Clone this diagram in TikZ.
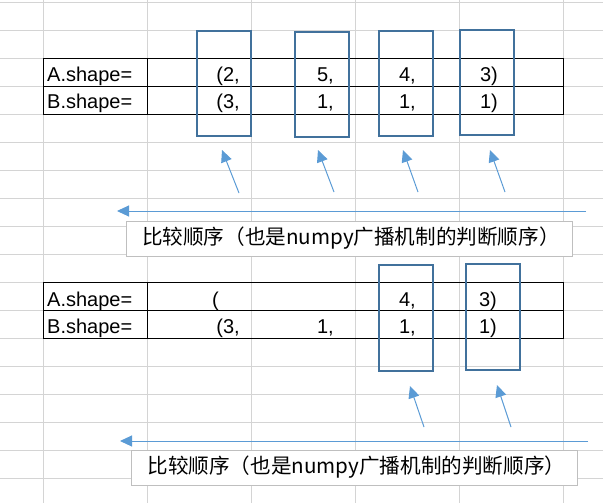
\documentclass[tikz,border=0pt]{standalone}
\usepackage{fontspec}
\setmainfont{Liberation Sans}
\newfontfamily\cjk{Noto Sans CJK SC}
\usetikzlibrary{arrows.meta}
\definecolor{gridgray}{HTML}{D4D4D4}
\definecolor{boxblue}{HTML}{41719C}
\definecolor{ptrblue}{HTML}{5B9BD5}
\definecolor{notegray}{HTML}{BFBFBF}

\begin{document}
\begin{tikzpicture}[x=1pt, y=-1pt,
    cell/.style={inner sep=0pt, font=\fontsize{20}{24}\selectfont},
    dimbox/.style={draw=boxblue, line width=2.3pt},
    ptr/.style={draw=ptrblue, line width=1pt, -{Triangle[length=12pt,width=11pt]}},
    note/.style={draw=notegray, line width=1pt, fill=white, inner xsep=16pt,
      text width=414pt, minimum height=35pt, align=left,
      font=\cjk\fontsize{20.6}{24}\selectfont}]
  \useasboundingbox (0,0) rectangle (603,503);
  \foreach \k in {0,...,17}
    \draw[gridgray, line width=1pt] (0,2.7+28*\k) -- (603,2.7+28*\k);
  \foreach \x in {43,147,251,355,459,563}
    \draw[gridgray, line width=1pt] (\x,0) -- (\x,503);

  \draw[line width=1pt] (43,58.3) rectangle (563,114.3);
  \draw[line width=1pt] (43,86.3) -- (563,86.3);
  \draw[line width=1pt] (147,58.3) -- (147,114.3);
  \node[cell, anchor=base west] (atop) at (47,82) {A.shape=};
  \node[cell, anchor=base west] (btop) at (47,109) {B.shape=};
  \node[cell, anchor=base east] (atop1) at (240,82) {(2,};
  \node[cell, anchor=base east] (atop2) at (334,82) {5,};
  \node[cell, anchor=base east] (atop3) at (416,82) {4,};
  \node[cell, anchor=base east] (atop4) at (498,82) {3)};
  \node[cell, anchor=base east] (btop1) at (240,109) {(3,};
  \node[cell, anchor=base east] (btop2) at (334,109) {1,};
  \node[cell, anchor=base east] (btop3) at (416,109) {1,};
  \node[cell, anchor=base east] (btop4) at (498,109) {1)};

  \draw[dimbox] (197,31) rectangle (251,136);
  \draw[dimbox] (295,32) rectangle (349,137);
  \draw[dimbox] (379,31) rectangle (433,136);
  \draw[dimbox] (460,30) rectangle (514,135);

  \coordinate (tail1) at (239,193); \coordinate (tip1) at (222,150);
  \coordinate (tail2) at (334,192); \coordinate (tip2) at (318,150);
  \coordinate (tail3) at (418,192); \coordinate (tip3) at (403,150);
  \coordinate (tail4) at (505,192); \coordinate (tip4) at (490,150);
  \draw[ptr] (tail1) -- (tip1);
  \draw[ptr] (tail2) -- (tip2);
  \draw[ptr] (tail3) -- (tip3);
  \draw[ptr] (tail4) -- (tip4);
  \coordinate (ordstart) at (586,211); \coordinate (ordend) at (117,211);
  \draw[ptr] (ordstart) -- (ordend);
  \node[note] (ordtop) at (349,238.5) {比较顺序（也是numpy广播机制的判断顺序）};

  \draw[line width=1pt] (43,282.7) rectangle (563,338.7);
  \draw[line width=1pt] (43,310.7) -- (563,310.7);
  \draw[line width=1pt] (147,282.7) -- (147,338.7);
  \node[cell, anchor=base west] (abot) at (47,306.5) {A.shape=};
  \node[cell, anchor=base west] (bbot) at (47,333.5) {B.shape=};
  \node[cell, anchor=base west] (abot1) at (212,306.5) {(};
  \node[cell, anchor=base east] (abot3) at (416,306.5) {4,};
  \node[cell, anchor=base east] (abot4) at (497,306.5) {3)};
  \node[cell, anchor=base east] (bbot1) at (240,333.5) {(3,};
  \node[cell, anchor=base east] (bbot2) at (334,333.5) {1,};
  \node[cell, anchor=base east] (bbot3) at (416,333.5) {1,};
  \node[cell, anchor=base east] (bbot4) at (497,333.5) {1)};

  \draw[dimbox] (379,265) rectangle (433,371);
  \draw[dimbox] (466,264) rectangle (520,370);

  \coordinate (tail5) at (424,427); \coordinate (tip5) at (410,386);
  \coordinate (tail6) at (511,427); \coordinate (tip6) at (497,385);
  \draw[ptr] (tail5) -- (tip5);
  \draw[ptr] (tail6) -- (tip6);
  \coordinate (ordstart2) at (588,441); \coordinate (ordend2) at (120,441);
  \draw[ptr] (ordstart2) -- (ordend2);
  \node[note] (ordbot) at (354.5,467.5) {比较顺序（也是numpy广播机制的判断顺序）};
\end{tikzpicture}
\end{document}
